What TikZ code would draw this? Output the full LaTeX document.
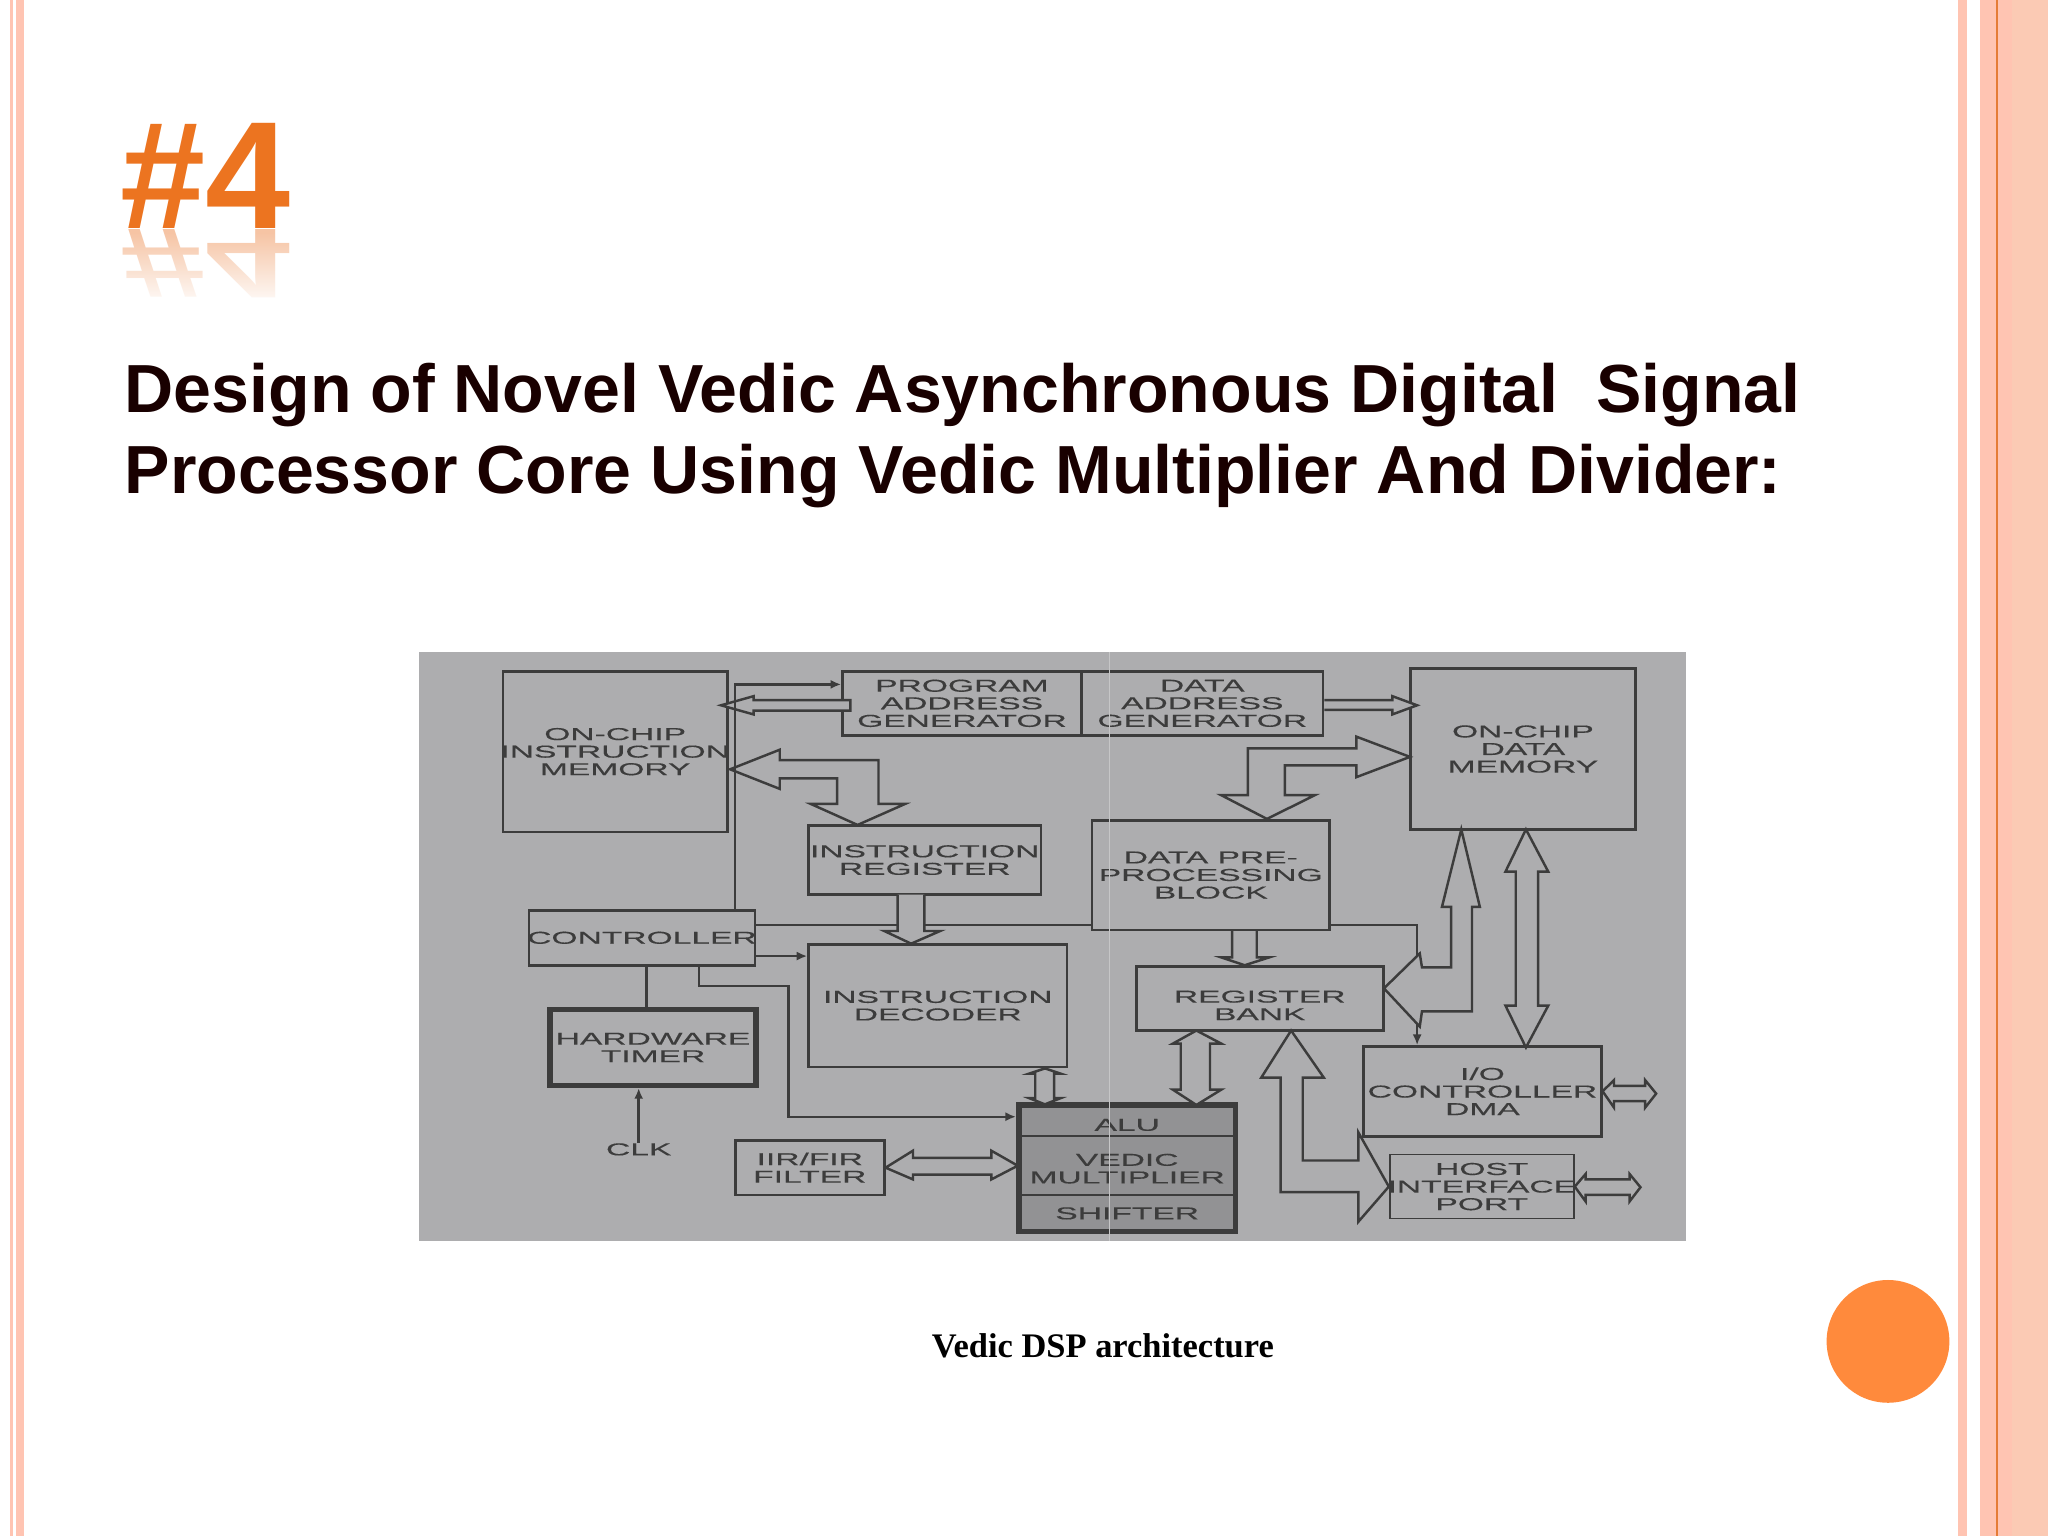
\documentclass[tikz,border=0pt]{standalone}
\usepackage{fontspec}
\usepackage{tikz}
\usetikzlibrary{arrows.meta, fadings}
\setmainfont{Liberation Sans}
\newfontfamily\panelfont[FakeStretch=1.95, FakeBold=0.35]{Liberation Sans}
\newfontfamily\captionfont{Liberation Serif}
\definecolor{stripe}{HTML}{FFC4B2}
\definecolor{peach}{HTML}{FBCAB4}
\definecolor{panel}{HTML}{ADADAF}
\definecolor{ink}{HTML}{3C3C3C}
\definecolor{alufill}{HTML}{929294}
\definecolor{accent}{HTML}{FF8A3C}
\definecolor{numcolor}{HTML}{EC7420}
\definecolor{numpale}{HTML}{F6C4A4}
\def\u{0.013061cm}
\tikzset{
  block/.style={draw=ink, line width=0.75pt, inner sep=0pt, align=center, text=ink,
    font=\fontsize{4.9}{5}\panelfont},
  heavy/.style={block, line width=1.6pt},
  faint/.style={block, line width=0.5pt},
  alupart/.style={block, fill=alufill, line width=0.6pt},
  bus/.style={draw=ink, line width=0.7pt, fill=panel, line join=miter},
  wire/.style={draw=ink, line width=0.7pt},
  tiny arrow/.style={-{Latex[length=3pt, width=2.6pt]}}
}
\begin{document}
\begin{tikzpicture}[x=\u, y=-\u]
\useasboundingbox (0,0) rectangle (1568,1176);
\fill[white] (0,0) rectangle (1568,1176);

% slide stripes
\fill[stripe] (7.7,0) rectangle (9.6,1176);
\fill[stripe] (12.3,0) rectangle (18.4,1176);
\fill[stripe] (1499.1,0) rectangle (1505.8,1176);
\fill[stripe] (1516,0) rectangle (1540.3,1176);
\fill[peach] (1540.3,0) rectangle (1568,1176);
\fill[accent!90!black] (1528.2,0) rectangle (1529.5,1176);
\fill[accent] (1445.5,1027) circle (47);

% slide number and reflection
\node[font=\fontsize{43.5}{44}\selectfont\bfseries, text=numcolor, anchor=base west, inner sep=0pt] (num) at (92,175) {\#4};
\node[font=\fontsize{43.5}{44}\selectfont\bfseries, text=numpale, anchor=base west, inner sep=0pt, yscale=-0.65, transform shape] (numrefl) at (92,176) {\#4};
\fill[white, path fading=north] (85,178) rectangle (230,236);

% title
\node[font=\fontsize{19.37}{20}\selectfont\bfseries, text=black!90!red, anchor=base west, inner sep=0pt] (titlea) at (95,316) {Design of Novel Vedic Asynchronous Digital\ \ Signal};
\node[font=\fontsize{19.37}{20}\selectfont\bfseries, text=black!90!red, anchor=base west, inner sep=0pt] (titleb) at (95,378) {Processor Core Using Vedic Multiplier And Divider:};

% grey panel
\fill[panel] (321,499) rectangle (1291,950);

% blocks
\node[block, minimum width=172*\u, minimum height=123*\u] (im) at (471,575.5) {ON-CHIP\\\makebox[0pt]{INSTRUCTION}\\MEMORY};
\node[block, minimum width=183*\u, minimum height=49*\u] (pag) at (736.5,538.5) {PROGRAM\\ADDRESS\\GENERATOR};
\node[block, minimum width=185*\u, minimum height=49*\u] (dag) at (920.5,538.5) {DATA\\ADDRESS\\GENERATOR};
\node[block, minimum width=172*\u, minimum height=123*\u] (dm) at (1166,573.5) {ON-CHIP\\DATA\\MEMORY};
\node[block, minimum width=178*\u, minimum height=53*\u] (ir) at (708,658.5) {INSTRUCTION\\REGISTER};
\node[block, minimum width=182*\u, minimum height=84*\u] (dpb) at (927,670) {DATA PRE-\\PROCESSING\\BLOCK};
\node[block, minimum width=173*\u, minimum height=42*\u] (ctrl) at (491.5,718) {\makebox[0pt]{CONTROLLER}};
\node[block, minimum width=198*\u, minimum height=94*\u] (id) at (718,770) {INSTRUCTION\\DECODER};
\node[block, minimum width=189*\u, minimum height=49*\u] (rb) at (964.5,764.5) {\rule{0pt}{7.3pt}REGISTER\\BANK};
\node[heavy, minimum width=158*\u, minimum height=58*\u] (ht) at (500,802) {HARDWARE\\TIMER};
\node[block, minimum width=182*\u, minimum height=69*\u] (io) at (1135,835.5) {I/O\\CONTROLLER\\DMA};
\node[faint, minimum width=141*\u, minimum height=49*\u] (hip) at (1134.5,908.5) {HOST\\\makebox[0pt]{INTERFACE}\\PORT};
\node[block, minimum width=114*\u, minimum height=42*\u] (iir) at (620,894) {IIR/FIR\\FILTER};
\node[alupart, minimum width=166*\u, minimum height=24*\u] (alu) at (863,858) {\rule{0pt}{5.8pt}ALU};
\node[alupart, minimum width=166*\u, minimum height=45*\u] (vedic) at (863,892.5) {\rule{0pt}{5.1pt}VEDIC\\MULTIPLIER};
\node[alupart, minimum width=166*\u, minimum height=28*\u] (shifter) at (863,929) {SHIFTER};
\node[heavy, minimum width=166*\u, minimum height=97*\u] (alubox) at (863,894.5) {};
\node[draw=none, inner sep=0pt, text=ink, font=\fontsize{4.9}{5}\panelfont] (clk) at (489,880) {CLK};

% end points of the wide arrows
\coordinate (imbusa) at (552,540);
\coordinate (imbusb) at (559,589);
\coordinate (irtip) at (656.6,631.6);
\coordinate (dmbusa) at (1085,540);
\coordinate (dmbusb) at (1079.5,579.5);
\coordinate (dpbtip) at (970,627);
\coordinate (idtip) at (697.6,722.5);
\coordinate (rbtop) at (953,739);
\coordinate (rbeast) at (1059.6,756.7);
\coordinate (dmleft) at (1118.8,635);
\coordinate (dmright) at (1168.3,635);
\coordinate (iotop) at (1168.3,802);
\coordinate (iofree) at (1268,837.3);
\coordinate (hipfree) at (1256,909);

% thin wires behind the wide arrows
\draw[wire, line width=0.5pt] (ctrl.east |- 0,708) -- (dpb.west |- 0,708);
\draw[wire, line width=0.5pt, tiny arrow] (dpb.east |- 0,708) -| (io.north -| 1085,0);

% wide arrows
\draw[bus] (imbusa) -- (577,533) -- (577,536) -- (651,536) -- (651,544) -- (577,544) -- (577,547) -- cycle;
\draw[bus] (imbusb) -- (597,574) -- (597,582) -- (672.6,582) -- (672.6,615.5) -- (693,615.5) -- (irtip) -- (620.7,615.5) -- (641,615.5) -- (641,596) -- (597,596) -- (597,604) -- cycle;
\draw[bus] (dag.east |- 0,536) -- (1066,536) -- (1066,533) -- (dmbusa) -- (1066,547) -- (1066,543.5) -- (dag.east |- 0,543.5);
\draw[bus] (dmbusb) -- (1038.5,564) -- (1038.5,573) -- (955.4,573) -- (955.4,608.8) -- (935,608.8) -- (dpbtip) -- (1006.7,608.8) -- (983.8,608.8) -- (983.8,586) -- (1038.5,586) -- (1038.5,595) -- cycle;
\draw[bus] (687.3,685) -- (687.3,712.8) -- (677,712.8) -- (idtip) -- (719.8,712.8) -- (707.8,712.8) -- (707.8,685);
\draw[bus] (800,818) -- (812,822) -- (807,822) -- (807,840.8) -- (812,840.8) -- (800,845.5) -- (788,840.8) -- (792.6,840.8) -- (792.6,822) -- (788,822) -- cycle;
\draw[bus] (iir.east) -- (699,881) -- (699,886.5) -- (759,886.5) -- (759,881) -- (vedic.west) -- (759,903) -- (759,899.4) -- (699,899.4) -- (699,903) -- cycle;
\draw[bus] (943.4,712.8) -- (943.4,733) -- (935,733) -- (rbtop) -- (971.8,733) -- (962.2,733) -- (962.2,712.8);
\draw[bus] (916,789) -- (935,799) -- (926.4,799) -- (926.4,834.3) -- (935,834.3) -- (916,846) -- (898,834.3) -- (904,834.3) -- (904,799) -- (898,799) -- cycle;
\draw[bus] (rbeast) -- (1087,730) -- (1088.7,740.6) -- (1111,740.6) -- (1111,694.3) -- (1104,694.3) -- (dmleft) -- (1133,694.3) -- (1127,694.3) -- (1127,774.3) -- (1088.7,774.3) -- (1087,786) -- cycle;
\draw[bus] (dmright) -- (1185.4,667.4) -- (1177.6,667.4) -- (1177.6,769.9) -- (1185.4,769.9) -- (iotop) -- (1152.6,769.9) -- (1160.5,769.9) -- (1160.5,667.4) -- (1152.6,667.4) -- cycle;
\draw[bus] (988.5,789) -- (1013.5,825) -- (997.4,825) -- (997.4,888.5) -- (1040,888.5) -- (1040,867) -- (hip.west) -- (1040,935.4) -- (1040,912.8) -- (980.4,912.8) -- (980.4,825) -- (965.7,825) -- cycle;
\draw[bus] (io.east) -- (1235.7,827) -- (1235.7,831.4) -- (1259.6,831.4) -- (1259.6,827) -- (iofree) -- (1259.6,848) -- (1259.6,843) -- (1235.7,843) -- (1235.7,848) -- cycle;
\draw[bus] (hip.east) -- (1214,898.8) -- (1214,903) -- (1247.6,903) -- (1247.6,898.8) -- (hipfree) -- (1247.6,919.9) -- (1247.6,914.9) -- (1214,914.9) -- (1214,919.9) -- cycle;

% thin wires on top
\draw[wire, tiny arrow] (ctrl.north -| 562.6,0) |- (pag.west |- 0,524);
\draw[wire, tiny arrow] (ctrl.east |- 0,732) -- (id.west |- 0,732);
\draw[wire, line width=1.1pt] (ctrl.south -| 495,0) -- (ht.north -| 495,0);
\draw[wire, tiny arrow] (ctrl.south -| 535,0) |- (603.6,755) |- (alubox.west |- 0,855);
\draw[wire, tiny arrow] (clk.north -| 489,0) -- (ht.south -| 489,0);

% seam in the panel
\draw[panel!70!white, line width=0.3pt] (849.5,499) -- (849.5,950);

% caption
\node[font=\fontsize{9.8}{10}\captionfont\bfseries, text=black, anchor=base west, inner sep=0pt] (caption) at (713,1039) {Vedic DSP architecture};
\end{tikzpicture}
\end{document}
